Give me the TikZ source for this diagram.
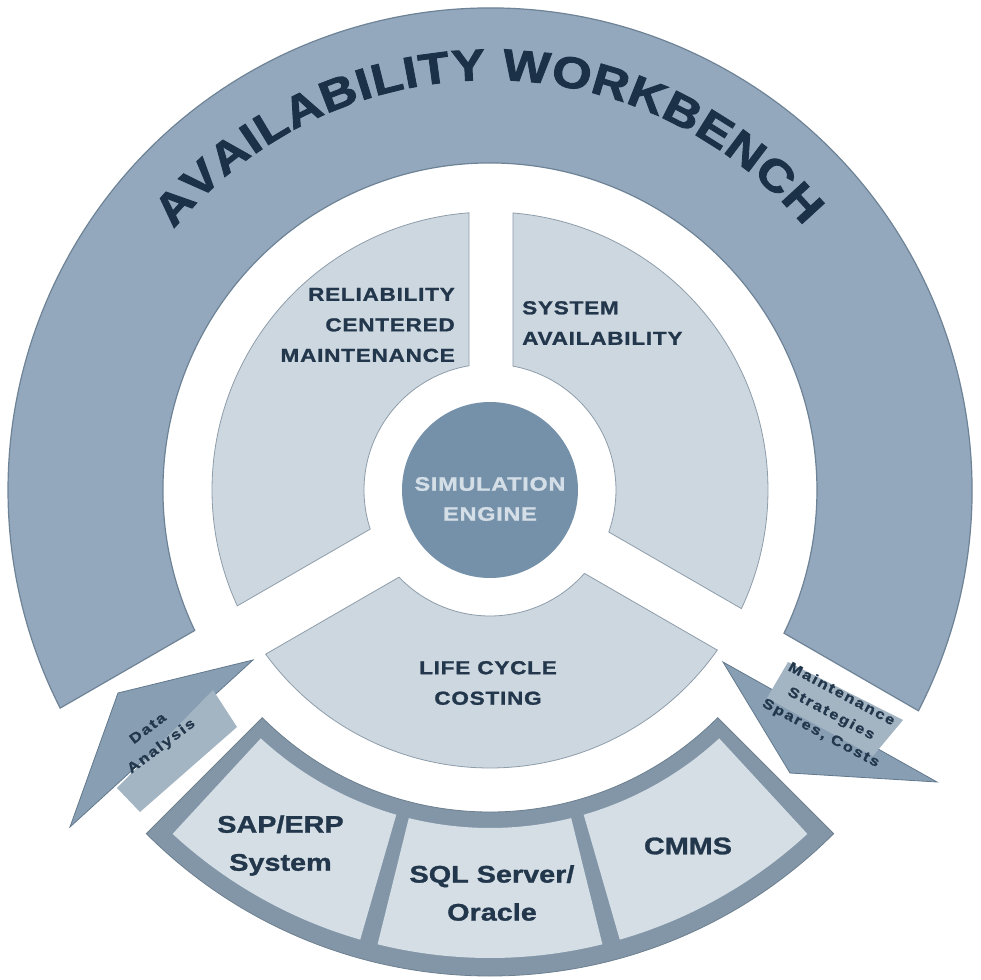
\documentclass[tikz,border=0pt]{standalone}
\usepackage{fontspec}
\setmainfont{Liberation Sans}
\newfontfamily\lblfont{Liberation Sans Bold}[FakeStretch=1.2,LetterSpace=4,FakeBold=1.2]
\newfontfamily\boxfont{Liberation Sans Bold}[FakeStretch=1.2,FakeBold=1.2]
\newfontfamily\arrfont{Liberation Sans Bold}[FakeStretch=1.2,LetterSpace=12,FakeBold=1]
\newfontfamily\ttlfont{Liberation Sans Bold}[FakeStretch=1.15,FakeBold=2]
\usetikzlibrary{decorations.text}
\definecolor{ringc}{HTML}{93A8BC}
\definecolor{ringe}{HTML}{6F8397}
\definecolor{secc}{HTML}{CDD7E0}
\definecolor{sece}{HTML}{8E9DAA}
\definecolor{centc}{HTML}{7591AA}
\definecolor{centt}{HTML}{D3DEE7}
\definecolor{bandc}{HTML}{8296A8}
\definecolor{boxc}{HTML}{D5DEE5}
\definecolor{headc}{HTML}{889FB3}
\definecolor{stemc}{HTML}{A3B4C3}
\definecolor{arre}{HTML}{62788C}
\definecolor{txtc}{HTML}{22374B}
\definecolor{ttlc}{HTML}{1B3147}
\tikzset{
  ringstyle/.style={fill=ringc,draw=ringe,line width=1.2pt},
  sectorstyle/.style={fill=secc,draw=sece,line width=0.8pt},
  bandstyle/.style={fill=bandc,draw=bandc!85!black,line width=0.8pt},
  boxstyle/.style={fill=boxc},
  headstyle/.style={fill=headc,draw=arre,line width=0.8pt},
  stemstyle/.style={fill=stemc},
  seclabel/.style={text=txtc,font=\lblfont\fontsize{18.8}{30.5}\selectfont,inner sep=0pt},
  boxlabel/.style={text=txtc,font=\boxfont\fontsize{24}{38}\selectfont,inner sep=0pt,align=center},
  arrlabel/.style={text=txtc,font=\arrfont\fontsize{14}{22}\selectfont,inner sep=0pt,align=center},
}
\newcommand\mysector[4]{%
 \pgfmathsetmacro\secA{#1+asin(#2/278)}%
 \pgfmathsetmacro\secB{#3-asin(#4/278)}%
 \pgfmathsetmacro\secC{#3-asin(#4/126)}%
 \pgfmathsetmacro\secD{#1+asin(#2/126)}%
 \draw[sectorstyle] (\secA:278pt) arc[start angle=\secA, end angle=\secB, radius=278pt]
   -- (\secC:126pt) arc[start angle=\secC, end angle=\secD, radius=126pt] -- cycle;}
\begin{document}
\begin{tikzpicture}[x=1pt,y=1pt]
\useasboundingbox (-490,-490) rectangle (490,490);
\fill[white] (-490,-490) rectangle (490,490);
% outer ring
\pgfmathsetmacro\aLo{210-asin(26/482)}
\pgfmathsetmacro\aLi{210-asin(26/327)}
\pgfmathsetmacro\aRo{-30+asin(23/482)}
\pgfmathsetmacro\aRi{-30+asin(23/327)}
\draw[ringstyle] (\aRo:482pt) arc[start angle=\aRo, end angle=\aLo, radius=482pt]
  -- (\aLi:327pt) arc[start angle=\aLi, end angle=\aRi, radius=327pt] -- cycle;
\path[decorate, decoration={text along path,
   text={|\ttlfont\fontsize{44}{44}\selectfont\color{ttlc}|AVAILABILITY WORKBENCH},
   text align={fit to path}}]
  (140.5:410pt) arc[start angle=140.5, end angle=40, radius=410pt];
% inner sectors
\mysector{90}{21}{210}{26}
\mysector{210}{30}{330}{25}
\mysector{-30}{23}{90}{23}
\fill[centc] (0,0) circle[radius=88pt];
% bottom band
\draw[bandstyle] (225:486pt) arc[start angle=225, end angle=315, radius=486pt]
  -- (315:322pt) arc[start angle=315, end angle=225, radius=322pt] -- cycle;
\fill[boxstyle] (227.3:468pt) arc[start angle=227.3, end angle=253.9, radius=468pt]
  -- (253.9:338pt) arc[start angle=253.9, end angle=227.3, radius=338pt] -- cycle;
\fill[boxstyle] (256.1:468pt) arc[start angle=256.1, end angle=283.9, radius=468pt]
  -- (283.9:338pt) arc[start angle=283.9, end angle=256.1, radius=338pt] -- cycle;
\fill[boxstyle] (286.1:468pt) arc[start angle=286.1, end angle=312.7, radius=468pt]
  -- (312.7:338pt) arc[start angle=312.7, end angle=286.1, radius=338pt] -- cycle;
% arrows
\draw[headstyle] (-420,-337) -- (-372,-203) -- (-237,-170) -- cycle;
\fill[stemstyle] (-277,-200) -- (-253,-237) -- (-350,-322) -- (-373,-298) -- cycle;
\draw[headstyle] (233,-172) -- (300,-283) -- (447,-292) -- cycle;
\fill[stemstyle] (298,-172) -- (413,-230) -- (383,-266) -- (277,-208) -- cycle;
% labels
\node[seclabel,align=right,anchor=east] (rcm) at (-35,165) {RELIABILITY\\CENTERED\\MAINTENANCE};
\node[seclabel,align=left,anchor=west] (sa) at (32,167) {SYSTEM\\AVAILABILITY};
\node[seclabel,align=center] (lcc) at (-2,-193) {LIFE CYCLE\\COSTING};
\node[seclabel,align=center,text=centt,font=\lblfont\fontsize{19.5}{30}\selectfont] (sim) at (0,-9) {SIMULATION\\ENGINE};
\node[boxlabel] (sap) at (-209.5,-355.5) {SAP/ERP\\System};
\node[boxlabel] (sql) at (2,-403) {SQL Server/\\Oracle};
\node[boxlabel] (cmms) at (198,-356) {CMMS};
\node[arrlabel,rotate=37] (da) at (-335,-248) {Data\\Analysis};
\node[arrlabel,rotate=-28] (ms) at (341,-224) {Maintenance\\Strategies\\Spares, Costs};
\end{tikzpicture}
\end{document}
